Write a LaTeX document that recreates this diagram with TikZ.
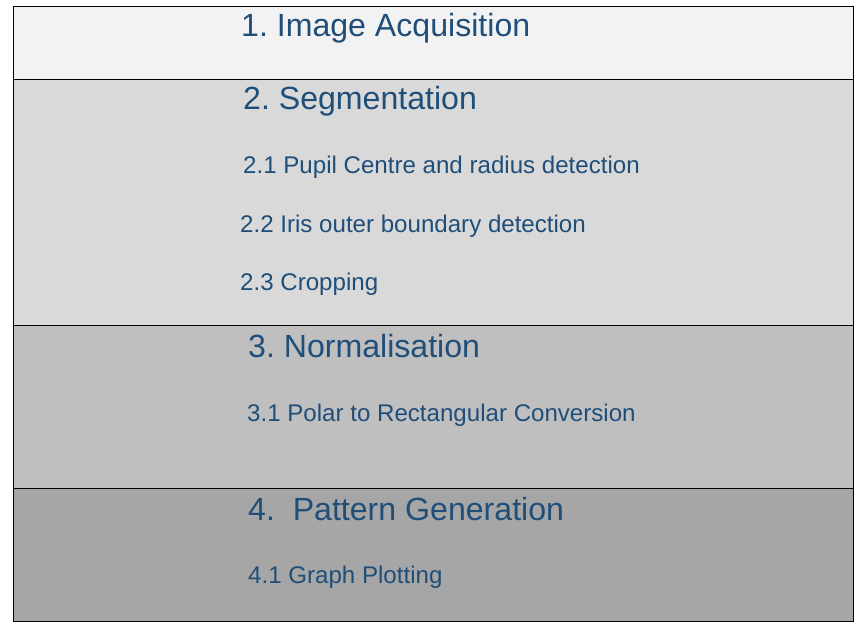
\documentclass[tikz,border=0pt]{standalone}
\usepackage{fontspec}
\setmainfont{Liberation Sans}
\usepackage{tikz}
\frenchspacing
\definecolor{stepblue}{HTML}{1F4E79}
\definecolor{bandA}{HTML}{F2F2F2}
\definecolor{bandB}{HTML}{D9D9D9}
\definecolor{bandC}{HTML}{BFBFBF}
\definecolor{bandD}{HTML}{A6A6A6}
\tikzset{
  heading/.style={anchor=base west, inner sep=0pt, text=stepblue, font=\fontsize{32.1}{36}\selectfont},
  subitem/.style={anchor=base west, inner sep=0pt, text=stepblue, font=\fontsize{24.1}{28}\selectfont},
}

\begin{document}
\begin{tikzpicture}[x=1pt, y=-1pt]
			%%%%% START %%%%%
			\useasboundingbox (0, 0) rectangle (859, 627);
			
			\draw[line width=1pt, fill=bandA] (13.5, 6.5) rectangle (853.5, 79);
			\draw[line width=1pt, fill=bandB] (13.5, 79) rectangle (853.5, 325);
			\draw[line width=1pt, fill=bandC] (13.5, 325) rectangle (853.5, 488);
			\draw[line width=1pt, fill=bandD] (13.5, 488) rectangle (853.5, 621.5);
			
			\node[heading] (acq) at (241, 36) {1. Image Acquisition};
			
			\node[heading] (seg) at (243, 109) {2. Segmentation};
			\node[subitem] (pupil) at (243, 173) {2.1 Pupil Centre and radius detection};
			\node[subitem] (iris) at (240, 232) {2.2 Iris outer boundary detection};
			\node[subitem] (crop) at (240, 290) {2.3 Cropping};
			
			\node[heading] (norm) at (248, 357) {3. Normalisation};
			\node[subitem] (polar) at (247, 421) {3.1 Polar to Rectangular Conversion};
			
			\node[heading] (pattern) at (248, 520) {4.\ \ Pattern Generation};
			\node[subitem] (graph) at (248, 583) {4.1 Graph Plotting};
			%%%%% END %%%%%
\end{tikzpicture}
\end{document}
